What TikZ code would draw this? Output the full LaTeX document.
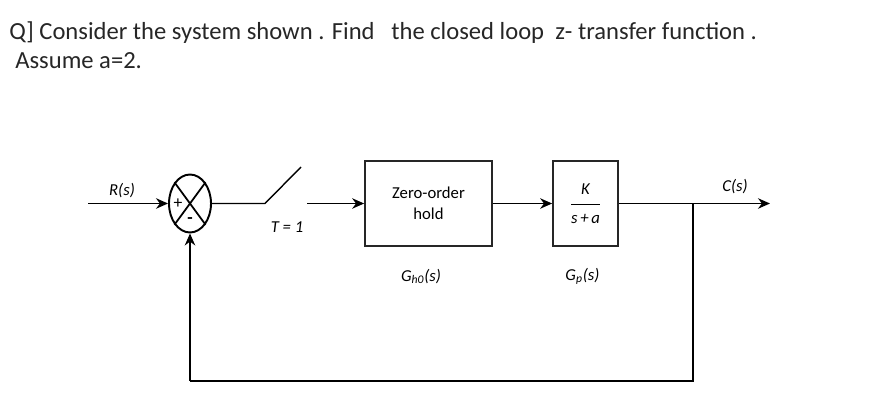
\documentclass[tikz,border=0pt]{standalone}
\usepackage{amsmath}
\usepackage{fontspec}
\setmainfont{Carlito}
\usepackage{tikz}
\usetikzlibrary{shapes.geometric, arrows.meta}
\newfontfamily\lblfont{Carlito}[Scale=1]
\tikzstyle{box} = [rectangle,
minimum height=1.7cm,
text centered,
align=center,
font=\lblfont\fontsize{9.5}{12}\selectfont,
draw=black!85,
line width=1pt]
\tikzstyle{sumnode} = [ellipse,
minimum width=0.84cm,
minimum height=1.16cm,
inner sep=0pt,
draw=black,
line width=1.1pt]
\tikzstyle{arrow} = [thick,-{Stealth[length=2.4mm,width=2.1mm]}]
\tikzstyle{line} = [thick]
\tikzstyle{lbl} = [font=\lblfont\itshape\fontsize{9.5}{12}\selectfont, inner sep=0pt]
\tikzstyle{question} = [anchor=west, inner sep=0pt, text=black!85, font=\fontsize{14}{17}\selectfont]

\begin{document}
\begin{tikzpicture}
\useasboundingbox (0,0) rectangle (17.74,8.08);

% Question
\node[question] (qline) at (0.18,7.42) {Q] Consider the system shown . Find~~ the closed loop~ z- transfer function .};
\node[question] (aline) at (0.3,6.87) {Assume a=2.};

% Blocks
\node[sumnode] (sum) at (3.8,4.01) {};
\node[box, minimum width=2.54cm] (hold) at (8.57,4.01) {Zero-order\\[0pt]hold};
\node[box, minimum width=1.3cm, inner sep=0pt] (plant) at (11.71,4.01) {$\dfrac{\raisebox{2pt}{\mbox{\lblfont\itshape K}}}{\raisebox{-2.5pt}{\mbox{\lblfont\itshape s\,+\,a}}}$};

% Cross of the summing point
\draw[line width=1pt] (sum.north east) -- (sum.south west);
\draw[line width=1pt] (sum.north west) -- (sum.south east);
\node[inner sep=0pt, font=\fontsize{10}{10}\selectfont] (plus) at (3.56,4.0) {+};
\node[inner sep=0pt, font=\bfseries\fontsize{10}{10}\selectfont] (minus) at (3.8,3.66) {-};

% Sampler
\coordinate (swa) at (5.3,4.01);
\coordinate (swb) at (6.02,4.74);
\coordinate (swc) at (6.14,4.01);
\draw[line] (sum) -- (swa) -- (swb);
\draw[arrow] (swc) -- (hold);

% Input and output
\coordinate (rin) at (1.76,4.01);
\coordinate (cout) at (15.4,4.01);
\coordinate (tap) at (13.86,4.01);
\draw[arrow] (rin) -- (sum);
\draw[arrow] (hold) -- (plant);
\draw[arrow] (plant) -- (cout);

% Feedback
\coordinate (fba) at (13.86,0.46);
\coordinate (fbb) at (3.8,0.46);
\draw[line] (tap) -- (fba) -- (fbb);
\draw[arrow] (fbb) -- (sum);

% Labels
\node[lbl] (rlabel) at (2.44,4.27) {R(s)};
\node[lbl] (tlabel) at (5.74,3.54) {T = 1};
\node[lbl] (ghlabel) at (8.42,2.55) {G\textsubscript{h0}(s)};
\node[lbl] (gplabel) at (11.65,2.55) {G\textsubscript{p}(s)};
\node[lbl] (clabel) at (14.7,4.34) {C(s)};

\end{tikzpicture}
\end{document}
